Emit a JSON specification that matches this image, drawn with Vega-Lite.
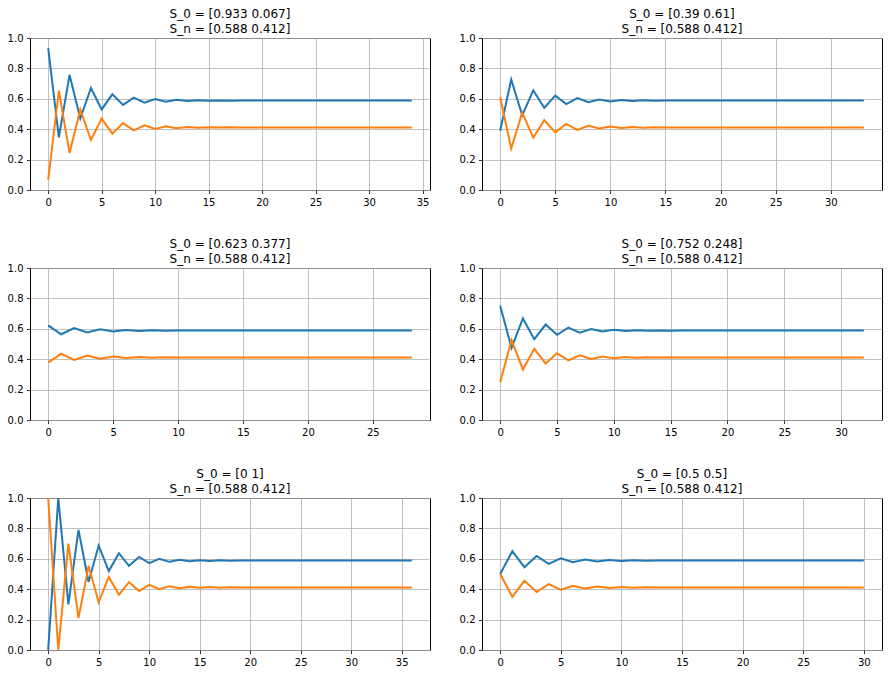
{
"$schema": "https://vega.github.io/schema/vega-lite/v6.json",
"padding": {"left": 6, "top": 7, "right": 3, "bottom": 5},
"background": "white",
"data": {"values": [
{"p":1,"n":0,"a":0.933,"b":0.067},{"p":1,"n":1,"a":0.347,"b":0.653},{"p":1,"n":2,"a":0.757,"b":0.243},{"p":1,"n":3,"a":0.470,"b":0.530},{"p":1,"n":4,"a":0.671,"b":0.329},{"p":1,"n":5,"a":0.530,"b":0.470},{"p":1,"n":6,"a":0.629,"b":0.371},{"p":1,"n":7,"a":0.560,"b":0.440},{"p":1,"n":8,"a":0.608,"b":0.392},{"p":1,"n":9,"a":0.574,"b":0.426},{"p":1,"n":10,"a":0.598,"b":0.402},{"p":1,"n":11,"a":0.581,"b":0.419},{"p":1,"n":12,"a":0.593,"b":0.407},{"p":1,"n":13,"a":0.585,"b":0.415},{"p":1,"n":14,"a":0.591,"b":0.409},{"p":1,"n":15,"a":0.587,"b":0.413},{"p":1,"n":16,"a":0.589,"b":0.411},{"p":1,"n":17,"a":0.587,"b":0.413},{"p":1,"n":18,"a":0.589,"b":0.411},{"p":1,"n":19,"a":0.588,"b":0.412},{"p":1,"n":20,"a":0.588,"b":0.412},{"p":1,"n":21,"a":0.588,"b":0.412},{"p":1,"n":22,"a":0.588,"b":0.412},{"p":1,"n":23,"a":0.588,"b":0.412},{"p":1,"n":24,"a":0.588,"b":0.412},{"p":1,"n":25,"a":0.588,"b":0.412},{"p":1,"n":26,"a":0.588,"b":0.412},{"p":1,"n":27,"a":0.588,"b":0.412},{"p":1,"n":28,"a":0.588,"b":0.412},{"p":1,"n":29,"a":0.588,"b":0.412},{"p":1,"n":30,"a":0.588,"b":0.412},{"p":1,"n":31,"a":0.588,"b":0.412},{"p":1,"n":32,"a":0.588,"b":0.412},{"p":1,"n":33,"a":0.588,"b":0.412},{"p":1,"n":34,"a":0.588,"b":0.412},
{"p":2,"n":0,"a":0.39,"b":0.61},{"p":2,"n":1,"a":0.727,"b":0.273},{"p":2,"n":2,"a":0.491,"b":0.509},{"p":2,"n":3,"a":0.656,"b":0.344},{"p":2,"n":4,"a":0.541,"b":0.459},{"p":2,"n":5,"a":0.621,"b":0.379},{"p":2,"n":6,"a":0.565,"b":0.435},{"p":2,"n":7,"a":0.605,"b":0.395},{"p":2,"n":8,"a":0.577,"b":0.423},{"p":2,"n":9,"a":0.596,"b":0.404},{"p":2,"n":10,"a":0.583,"b":0.417},{"p":2,"n":11,"a":0.592,"b":0.408},{"p":2,"n":12,"a":0.585,"b":0.415},{"p":2,"n":13,"a":0.590,"b":0.410},{"p":2,"n":14,"a":0.587,"b":0.413},{"p":2,"n":15,"a":0.589,"b":0.411},{"p":2,"n":16,"a":0.588,"b":0.412},{"p":2,"n":17,"a":0.588,"b":0.412},{"p":2,"n":18,"a":0.588,"b":0.412},{"p":2,"n":19,"a":0.588,"b":0.412},{"p":2,"n":20,"a":0.588,"b":0.412},{"p":2,"n":21,"a":0.588,"b":0.412},{"p":2,"n":22,"a":0.588,"b":0.412},{"p":2,"n":23,"a":0.588,"b":0.412},{"p":2,"n":24,"a":0.588,"b":0.412},{"p":2,"n":25,"a":0.588,"b":0.412},{"p":2,"n":26,"a":0.588,"b":0.412},{"p":2,"n":27,"a":0.588,"b":0.412},{"p":2,"n":28,"a":0.588,"b":0.412},{"p":2,"n":29,"a":0.588,"b":0.412},{"p":2,"n":30,"a":0.588,"b":0.412},{"p":2,"n":31,"a":0.588,"b":0.412},{"p":2,"n":32,"a":0.588,"b":0.412},{"p":2,"n":33,"a":0.588,"b":0.412},
{"p":3,"n":0,"a":0.623,"b":0.377},{"p":3,"n":1,"a":0.564,"b":0.436},{"p":3,"n":2,"a":0.605,"b":0.395},{"p":3,"n":3,"a":0.576,"b":0.424},{"p":3,"n":4,"a":0.597,"b":0.403},{"p":3,"n":5,"a":0.582,"b":0.418},{"p":3,"n":6,"a":0.592,"b":0.408},{"p":3,"n":7,"a":0.585,"b":0.415},{"p":3,"n":8,"a":0.590,"b":0.410},{"p":3,"n":9,"a":0.587,"b":0.413},{"p":3,"n":10,"a":0.589,"b":0.411},{"p":3,"n":11,"a":0.588,"b":0.412},{"p":3,"n":12,"a":0.588,"b":0.412},{"p":3,"n":13,"a":0.588,"b":0.412},{"p":3,"n":14,"a":0.588,"b":0.412},{"p":3,"n":15,"a":0.588,"b":0.412},{"p":3,"n":16,"a":0.588,"b":0.412},{"p":3,"n":17,"a":0.588,"b":0.412},{"p":3,"n":18,"a":0.588,"b":0.412},{"p":3,"n":19,"a":0.588,"b":0.412},{"p":3,"n":20,"a":0.588,"b":0.412},{"p":3,"n":21,"a":0.588,"b":0.412},{"p":3,"n":22,"a":0.588,"b":0.412},{"p":3,"n":23,"a":0.588,"b":0.412},{"p":3,"n":24,"a":0.588,"b":0.412},{"p":3,"n":25,"a":0.588,"b":0.412},{"p":3,"n":26,"a":0.588,"b":0.412},{"p":3,"n":27,"a":0.588,"b":0.412},{"p":3,"n":28,"a":0.588,"b":0.412},
{"p":4,"n":0,"a":0.752,"b":0.248},{"p":4,"n":1,"a":0.474,"b":0.526},{"p":4,"n":2,"a":0.668,"b":0.332},{"p":4,"n":3,"a":0.532,"b":0.468},{"p":4,"n":4,"a":0.628,"b":0.372},{"p":4,"n":5,"a":0.561,"b":0.439},{"p":4,"n":6,"a":0.608,"b":0.392},{"p":4,"n":7,"a":0.575,"b":0.425},{"p":4,"n":8,"a":0.598,"b":0.402},{"p":4,"n":9,"a":0.582,"b":0.418},{"p":4,"n":10,"a":0.593,"b":0.407},{"p":4,"n":11,"a":0.585,"b":0.415},{"p":4,"n":12,"a":0.590,"b":0.410},{"p":4,"n":13,"a":0.587,"b":0.413},{"p":4,"n":14,"a":0.589,"b":0.411},{"p":4,"n":15,"a":0.587,"b":0.413},{"p":4,"n":16,"a":0.589,"b":0.411},{"p":4,"n":17,"a":0.588,"b":0.412},{"p":4,"n":18,"a":0.588,"b":0.412},{"p":4,"n":19,"a":0.588,"b":0.412},{"p":4,"n":20,"a":0.588,"b":0.412},{"p":4,"n":21,"a":0.588,"b":0.412},{"p":4,"n":22,"a":0.588,"b":0.412},{"p":4,"n":23,"a":0.588,"b":0.412},{"p":4,"n":24,"a":0.588,"b":0.412},{"p":4,"n":25,"a":0.588,"b":0.412},{"p":4,"n":26,"a":0.588,"b":0.412},{"p":4,"n":27,"a":0.588,"b":0.412},{"p":4,"n":28,"a":0.588,"b":0.412},{"p":4,"n":29,"a":0.588,"b":0.412},{"p":4,"n":30,"a":0.588,"b":0.412},{"p":4,"n":31,"a":0.588,"b":0.412},{"p":4,"n":32,"a":0.588,"b":0.412},
{"p":5,"n":0,"a":0.0,"b":1.0},{"p":5,"n":1,"a":1.0,"b":0.0},{"p":5,"n":2,"a":0.3,"b":0.7},{"p":5,"n":3,"a":0.79,"b":0.21},{"p":5,"n":4,"a":0.447,"b":0.553},{"p":5,"n":5,"a":0.687,"b":0.313},{"p":5,"n":6,"a":0.519,"b":0.481},{"p":5,"n":7,"a":0.637,"b":0.363},{"p":5,"n":8,"a":0.554,"b":0.446},{"p":5,"n":9,"a":0.612,"b":0.388},{"p":5,"n":10,"a":0.572,"b":0.428},{"p":5,"n":11,"a":0.600,"b":0.400},{"p":5,"n":12,"a":0.580,"b":0.420},{"p":5,"n":13,"a":0.594,"b":0.406},{"p":5,"n":14,"a":0.584,"b":0.416},{"p":5,"n":15,"a":0.591,"b":0.409},{"p":5,"n":16,"a":0.586,"b":0.414},{"p":5,"n":17,"a":0.590,"b":0.410},{"p":5,"n":18,"a":0.587,"b":0.413},{"p":5,"n":19,"a":0.589,"b":0.411},{"p":5,"n":20,"a":0.588,"b":0.412},{"p":5,"n":21,"a":0.588,"b":0.412},{"p":5,"n":22,"a":0.588,"b":0.412},{"p":5,"n":23,"a":0.588,"b":0.412},{"p":5,"n":24,"a":0.588,"b":0.412},{"p":5,"n":25,"a":0.588,"b":0.412},{"p":5,"n":26,"a":0.588,"b":0.412},{"p":5,"n":27,"a":0.588,"b":0.412},{"p":5,"n":28,"a":0.588,"b":0.412},{"p":5,"n":29,"a":0.588,"b":0.412},{"p":5,"n":30,"a":0.588,"b":0.412},{"p":5,"n":31,"a":0.588,"b":0.412},{"p":5,"n":32,"a":0.588,"b":0.412},{"p":5,"n":33,"a":0.588,"b":0.412},{"p":5,"n":34,"a":0.588,"b":0.412},{"p":5,"n":35,"a":0.588,"b":0.412},{"p":5,"n":36,"a":0.588,"b":0.412},
{"p":6,"n":0,"a":0.5,"b":0.5},{"p":6,"n":1,"a":0.65,"b":0.35},{"p":6,"n":2,"a":0.545,"b":0.455},{"p":6,"n":3,"a":0.619,"b":0.381},{"p":6,"n":4,"a":0.567,"b":0.433},{"p":6,"n":5,"a":0.603,"b":0.397},{"p":6,"n":6,"a":0.578,"b":0.422},{"p":6,"n":7,"a":0.596,"b":0.404},{"p":6,"n":8,"a":0.583,"b":0.417},{"p":6,"n":9,"a":0.592,"b":0.408},{"p":6,"n":10,"a":0.586,"b":0.414},{"p":6,"n":11,"a":0.590,"b":0.410},{"p":6,"n":12,"a":0.587,"b":0.413},{"p":6,"n":13,"a":0.589,"b":0.411},{"p":6,"n":14,"a":0.588,"b":0.412},{"p":6,"n":15,"a":0.588,"b":0.412},{"p":6,"n":16,"a":0.588,"b":0.412},{"p":6,"n":17,"a":0.588,"b":0.412},{"p":6,"n":18,"a":0.588,"b":0.412},{"p":6,"n":19,"a":0.588,"b":0.412},{"p":6,"n":20,"a":0.588,"b":0.412},{"p":6,"n":21,"a":0.588,"b":0.412},{"p":6,"n":22,"a":0.588,"b":0.412},{"p":6,"n":23,"a":0.588,"b":0.412},{"p":6,"n":24,"a":0.588,"b":0.412},{"p":6,"n":25,"a":0.588,"b":0.412},{"p":6,"n":26,"a":0.588,"b":0.412},{"p":6,"n":27,"a":0.588,"b":0.412},{"p":6,"n":28,"a":0.588,"b":0.412},{"p":6,"n":29,"a":0.588,"b":0.412},{"p":6,"n":30,"a":0.588,"b":0.412}
]},
"config": {
  "font": "DejaVu Sans",
  "view": {"stroke": "#000000", "strokeWidth": 1},
  "axis": {"domain": false, "grid": true, "gridColor": "#b0b0b0", "gridWidth": 0.8, "tickColor": "#000000", "tickSize": 3.5, "tickWidth": 0.8, "labelFont": "DejaVu Sans", "labelFontSize": 10, "labelColor": "#000000", "labelPadding": 3.5, "title": null},
  "title": {"font": "DejaVu Sans", "fontSize": 12, "fontWeight": "normal", "color": "#000000", "offset": -3, "lineHeight": 15, "anchor": "middle"},
  "line": {"strokeWidth": 2, "clip": true}
},
"columns": 2,
"spacing": {"column": 27, "row": 29},
"concat": [
 {"width": 400, "height": 152, "title": {"text": ["S_0 = [0.933 0.067]", "S_n = [0.588 0.412]"]},
  "transform": [{"filter": "datum.p == 1"}, {"fold": ["a","b"], "as": ["s","v"]}],
  "mark": {"type": "line"},
  "encoding": {
   "x": {"field": "n", "type": "quantitative", "scale": {"domain": [-1.7, 35.7], "nice": false, "zero": false}, "axis": {"values": [0,5,10,15,20,25,30,35]}},
   "y": {"field": "v", "type": "quantitative", "scale": {"domain": [0, 1], "nice": false}, "axis": {"values": [0,0.2,0.4,0.6,0.8,1.0], "format": ".1f"}},
   "color": {"field": "s", "type": "nominal", "scale": {"domain": ["a","b"], "range": ["#1f77b4","#ff7f0e"]}, "legend": null}}},
 {"width": 400, "height": 152, "title": {"text": ["S_0 = [0.39 0.61]", "S_n = [0.588 0.412]"]},
  "transform": [{"filter": "datum.p == 2"}, {"fold": ["a","b"], "as": ["s","v"]}],
  "mark": {"type": "line"},
  "encoding": {
   "x": {"field": "n", "type": "quantitative", "scale": {"domain": [-1.65, 34.65], "nice": false, "zero": false}, "axis": {"values": [0,5,10,15,20,25,30]}},
   "y": {"field": "v", "type": "quantitative", "scale": {"domain": [0, 1], "nice": false}, "axis": {"values": [0,0.2,0.4,0.6,0.8,1.0], "format": ".1f"}},
   "color": {"field": "s", "type": "nominal", "scale": {"domain": ["a","b"], "range": ["#1f77b4","#ff7f0e"]}, "legend": null}}},
 {"width": 400, "height": 152, "title": {"text": ["S_0 = [0.623 0.377]", "S_n = [0.588 0.412]"]},
  "transform": [{"filter": "datum.p == 3"}, {"fold": ["a","b"], "as": ["s","v"]}],
  "mark": {"type": "line"},
  "encoding": {
   "x": {"field": "n", "type": "quantitative", "scale": {"domain": [-1.4, 29.4], "nice": false, "zero": false}, "axis": {"values": [0,5,10,15,20,25]}},
   "y": {"field": "v", "type": "quantitative", "scale": {"domain": [0, 1], "nice": false}, "axis": {"values": [0,0.2,0.4,0.6,0.8,1.0], "format": ".1f"}},
   "color": {"field": "s", "type": "nominal", "scale": {"domain": ["a","b"], "range": ["#1f77b4","#ff7f0e"]}, "legend": null}}},
 {"width": 400, "height": 152, "title": {"text": ["S_0 = [0.752 0.248]", "S_n = [0.588 0.412]"]},
  "transform": [{"filter": "datum.p == 4"}, {"fold": ["a","b"], "as": ["s","v"]}],
  "mark": {"type": "line"},
  "encoding": {
   "x": {"field": "n", "type": "quantitative", "scale": {"domain": [-1.6, 33.6], "nice": false, "zero": false}, "axis": {"values": [0,5,10,15,20,25,30]}},
   "y": {"field": "v", "type": "quantitative", "scale": {"domain": [0, 1], "nice": false}, "axis": {"values": [0,0.2,0.4,0.6,0.8,1.0], "format": ".1f"}},
   "color": {"field": "s", "type": "nominal", "scale": {"domain": ["a","b"], "range": ["#1f77b4","#ff7f0e"]}, "legend": null}}},
 {"width": 400, "height": 152, "title": {"text": ["S_0 = [0 1]", "S_n = [0.588 0.412]"]},
  "transform": [{"filter": "datum.p == 5"}, {"fold": ["a","b"], "as": ["s","v"]}],
  "mark": {"type": "line"},
  "encoding": {
   "x": {"field": "n", "type": "quantitative", "scale": {"domain": [-1.8, 37.8], "nice": false, "zero": false}, "axis": {"values": [0,5,10,15,20,25,30,35]}},
   "y": {"field": "v", "type": "quantitative", "scale": {"domain": [0, 1], "nice": false}, "axis": {"values": [0,0.2,0.4,0.6,0.8,1.0], "format": ".1f"}},
   "color": {"field": "s", "type": "nominal", "scale": {"domain": ["a","b"], "range": ["#1f77b4","#ff7f0e"]}, "legend": null}}},
 {"width": 400, "height": 152, "title": {"text": ["S_0 = [0.5 0.5]", "S_n = [0.588 0.412]"]},
  "transform": [{"filter": "datum.p == 6"}, {"fold": ["a","b"], "as": ["s","v"]}],
  "mark": {"type": "line"},
  "encoding": {
   "x": {"field": "n", "type": "quantitative", "scale": {"domain": [-1.5, 31.5], "nice": false, "zero": false}, "axis": {"values": [0,5,10,15,20,25,30]}},
   "y": {"field": "v", "type": "quantitative", "scale": {"domain": [0, 1], "nice": false}, "axis": {"values": [0,0.2,0.4,0.6,0.8,1.0], "format": ".1f"}},
   "color": {"field": "s", "type": "nominal", "scale": {"domain": ["a","b"], "range": ["#1f77b4","#ff7f0e"]}, "legend": null}}}
]
}
